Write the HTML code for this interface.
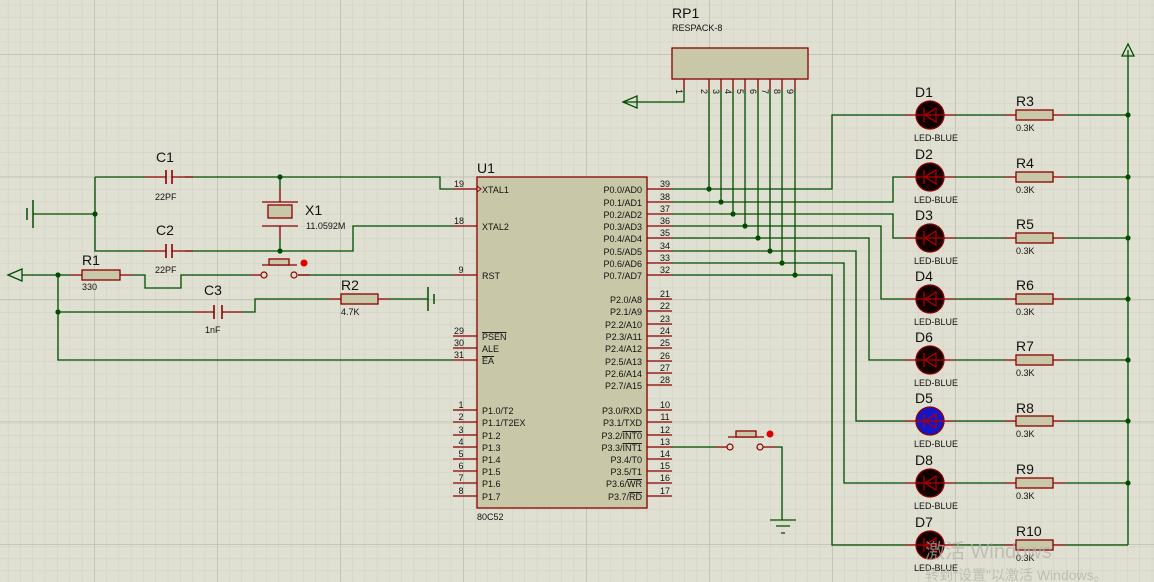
<!DOCTYPE html>
<html><head><meta charset="utf-8"><style>
html,body{margin:0;padding:0;background:#e0e0d2;}
svg{display:block;font-family:"Liberation Sans",Arial,sans-serif;}
.w{stroke:#004d00;stroke-width:1.3;fill:none}
.r{stroke:#8b0000;stroke-width:1.3;fill:none}
.b{fill:#c8c8a8;stroke:#8b0000;stroke-width:1.3}
.j{fill:#004d00}
.t{font-size:9px;fill:#111}
.L{font-size:14px;fill:#111}
.ov{text-decoration:overline}
</style></head><body>
<svg width="1154" height="582" viewBox="0 0 1154 582" xmlns="http://www.w3.org/2000/svg">
<defs>
<pattern id="mi" width="12.3" height="12.3" patternUnits="userSpaceOnUse" x="7.9" y="4.8">
<path d="M0 0H12.3M0 0V12.3" stroke="#cdcdc1" stroke-width="1"/></pattern>
<pattern id="ma" width="123" height="122.5" patternUnits="userSpaceOnUse" x="94" y="54">
<path d="M0 0H123M0 0V123" stroke="#bdbdb1" stroke-width="1.6"/></pattern>
<g id="row">
<path class="r" d="M905 0H916M944 0H955M1005 0H1016M1053 0H1065"/>
<path class="w" d="M955 0H1005M1065 0H1128"/>
<rect class="b" x="1016" y="-5" width="37" height="10"/>
</g>
<g id="led">
<circle cx="930" cy="0" r="14" fill="#120000" stroke="#8b0000" stroke-width="1.3"/>
<polygon points="936,-7 936,7 925,0" fill="none" stroke="#b00000" stroke-width="1.2"/>
<path d="M924 -7V7M916 0H944" stroke="#b00000" stroke-width="1.2"/>
</g>
</defs>
<rect width="1154" height="582" fill="#e0e0d2"/>
<rect width="1154" height="582" fill="url(#mi)"/>
<rect width="1154" height="582" fill="url(#ma)"/>

<!-- U1 -->
<rect class="b" x="477" y="177" width="170" height="331"/>
<text class="L" x="477" y="173">U1</text>
<text class="t" x="477" y="520">80C52</text>
<path class="r" d="M453 189H477M453 226H477M453 275H477M453 336H477M453 348H477M453 360H477M453 410H477M453 422H477M453 435H477M453 447H477M453 459H477M453 471H477M453 483H477M453 496H477"/>
<path class="r" d="M647 189H672M647 202H672M647 214H672M647 226H672M647 238H672M647 251H672M647 263H672M647 275H672M647 299H672M647 311H672M647 324H672M647 336H672M647 348H672M647 361H672M647 373H672M647 385H672M647 410H672M647 422H672M647 435H672M647 447H672M647 459H672M647 471H672M647 483H672M647 496H672"/>
<path d="M477 186L481 189L477 192" stroke="#8b0000" fill="none"/>
<g class="t" text-anchor="middle">
<text x="459" y="187">19</text><text x="459" y="224">18</text><text x="461" y="273">9</text>
<text x="459" y="334">29</text><text x="459" y="346">30</text><text x="459" y="358">31</text>
<text x="461" y="408">1</text><text x="461" y="420">2</text><text x="461" y="433">3</text><text x="461" y="445">4</text>
<text x="461" y="457">5</text><text x="461" y="469">6</text><text x="461" y="481">7</text><text x="461" y="494">8</text>
<text x="665" y="187">39</text><text x="665" y="200">38</text><text x="665" y="212">37</text><text x="665" y="224">36</text>
<text x="665" y="236">35</text><text x="665" y="249">34</text><text x="665" y="261">33</text><text x="665" y="273">32</text>
<text x="665" y="297">21</text><text x="665" y="309">22</text><text x="665" y="322">23</text><text x="665" y="334">24</text>
<text x="665" y="346">25</text><text x="665" y="359">26</text><text x="665" y="371">27</text><text x="665" y="383">28</text>
<text x="665" y="408">10</text><text x="665" y="420">11</text><text x="665" y="433">12</text><text x="665" y="445">13</text>
<text x="665" y="457">14</text><text x="665" y="469">15</text><text x="665" y="481">16</text><text x="665" y="494">17</text>
</g>
<g class="t">
<text x="482" y="193">XTAL1</text><text x="482" y="230">XTAL2</text><text x="482" y="279">RST</text>
<text x="482" y="340" class="t ov">PSEN</text><text x="482" y="352">ALE</text><text x="482" y="364" class="t ov">EA</text>
<text x="482" y="414">P1.0/T2</text><text x="482" y="426">P1.1/T2EX</text><text x="482" y="439">P1.2</text>
<text x="482" y="451">P1.3</text><text x="482" y="463">P1.4</text><text x="482" y="475">P1.5</text>
<text x="482" y="487">P1.6</text><text x="482" y="500">P1.7</text>
</g>
<g class="t" text-anchor="end">
<text x="642" y="193">P0.0/AD0</text><text x="642" y="206">P0.1/AD1</text><text x="642" y="218">P0.2/AD2</text>
<text x="642" y="230">P0.3/AD3</text><text x="642" y="242">P0.4/AD4</text><text x="642" y="255">P0.5/AD5</text>
<text x="642" y="267">P0.6/AD6</text><text x="642" y="279">P0.7/AD7</text>
<text x="642" y="303">P2.0/A8</text><text x="642" y="315">P2.1/A9</text><text x="642" y="328">P2.2/A10</text>
<text x="642" y="340">P2.3/A11</text><text x="642" y="352">P2.4/A12</text><text x="642" y="365">P2.5/A13</text>
<text x="642" y="377">P2.6/A14</text><text x="642" y="389">P2.7/A15</text>
<text x="642" y="414">P3.0/RXD</text><text x="642" y="426">P3.1/TXD</text>
<text x="642" y="439">P3.2/<tspan class="ov">INT0</tspan></text><text x="642" y="451">P3.3/<tspan class="ov">INT1</tspan></text>
<text x="642" y="463">P3.4/T0</text><text x="642" y="475">P3.5/T1</text>
<text x="642" y="487">P3.6/<tspan class="ov">WR</tspan></text><text x="642" y="500">P3.7/<tspan class="ov">RD</tspan></text>
</g>

<!-- RP1 -->
<text class="L" x="672" y="18">RP1</text>
<text class="t" x="672" y="31">RESPACK-8</text>
<rect class="b" x="672" y="48" width="136" height="31"/>
<path class="r" d="M684 79V90M709 79V90M721 79V90M733 79V90M745 79V90M758 79V90M770 79V90M782 79V90M795 79V90"/>
<path class="w" d="M684 90V102H623"/>
<path d="M623 102L637 96V108Z" fill="none" stroke="#004d00" stroke-width="1.3"/>
<g class="t" font-size="8">
<text transform="translate(676,89) rotate(90)">1</text><text transform="translate(701,89) rotate(90)">2</text>
<text transform="translate(713,89) rotate(90)">3</text><text transform="translate(725,89) rotate(90)">4</text>
<text transform="translate(737,89) rotate(90)">5</text><text transform="translate(750,89) rotate(90)">6</text>
<text transform="translate(762,89) rotate(90)">7</text><text transform="translate(774,89) rotate(90)">8</text>
<text transform="translate(787,89) rotate(90)">9</text>
</g>
<path class="w" d="M709 90V189M721 90V202M733 90V214M745 90V226M758 90V238M770 90V251M782 90V263M795 90V275"/>
<path class="w" d="M672 189H832V115H905M672 202H893V177H905M672 214H893V238H905M672 226H881V299H905M672 238H869V360H905M672 251H856V421H905M672 263H844V483H905M672 275H832V545H905"/>
<g class="j"><circle cx="709" cy="189" r="2.6"/><circle cx="721" cy="202" r="2.6"/><circle cx="733" cy="214" r="2.6"/><circle cx="745" cy="226" r="2.6"/><circle cx="758" cy="238" r="2.6"/><circle cx="770" cy="251" r="2.6"/><circle cx="782" cy="263" r="2.6"/><circle cx="795" cy="275" r="2.6"/></g>

<!-- LED rows -->
<use href="#row" y="115"/><use href="#led" y="115"/>
<use href="#row" y="177"/><use href="#led" y="177"/>
<use href="#row" y="238"/><use href="#led" y="238"/>
<use href="#row" y="299"/><use href="#led" y="299"/>
<use href="#row" y="360"/><use href="#led" y="360"/>
<use href="#row" y="421"/>
<g transform="translate(0,421)">
<circle cx="930" cy="0" r="14" fill="#1515c8" stroke="#8b0000" stroke-width="1.3"/>
<polygon points="936,-7 936,7 925,0" fill="none" stroke="#b00000" stroke-width="1.2"/>
<path d="M924 -7V7M916 0H944" stroke="#b00000" stroke-width="1.2"/>
</g>
<use href="#row" y="483"/><use href="#led" y="483"/>
<use href="#row" y="545"/><use href="#led" y="545"/>
<path class="w" d="M1128 50V545"/>
<path d="M1128 44L1122 56H1134Z" fill="none" stroke="#004d00" stroke-width="1.3"/>
<g class="j"><circle cx="1128" cy="115" r="2.6"/><circle cx="1128" cy="177" r="2.6"/><circle cx="1128" cy="238" r="2.6"/><circle cx="1128" cy="299" r="2.6"/><circle cx="1128" cy="360" r="2.6"/><circle cx="1128" cy="421" r="2.6"/><circle cx="1128" cy="483" r="2.6"/></g>
<g class="L">
<text x="915" y="97">D1</text><text x="915" y="159">D2</text><text x="915" y="220">D3</text><text x="915" y="281">D4</text>
<text x="915" y="342">D6</text><text x="915" y="403">D5</text><text x="915" y="465">D8</text><text x="915" y="527">D7</text>
<text x="1016" y="106">R3</text><text x="1016" y="168">R4</text><text x="1016" y="229">R5</text><text x="1016" y="290">R6</text>
<text x="1016" y="351">R7</text><text x="1016" y="413">R8</text><text x="1016" y="474">R9</text><text x="1016" y="536">R10</text>
</g>
<g class="t">
<text x="914" y="141">LED-BLUE</text><text x="914" y="203">LED-BLUE</text><text x="914" y="264">LED-BLUE</text><text x="914" y="325">LED-BLUE</text>
<text x="914" y="386">LED-BLUE</text><text x="914" y="447">LED-BLUE</text><text x="914" y="509">LED-BLUE</text><text x="914" y="571">LED-BLUE</text>
<text x="1016" y="131">0.3K</text><text x="1016" y="193">0.3K</text><text x="1016" y="254">0.3K</text><text x="1016" y="315">0.3K</text>
<text x="1016" y="376">0.3K</text><text x="1016" y="437">0.3K</text><text x="1016" y="499">0.3K</text><text x="1016" y="561">0.3K</text>
</g>

<!-- left circuit -->
<path class="w" d="M95 177H145M185 177H440V189H453M280 177V189M280 239V251M95 177V251H145M185 251H353V226H453M95 214H33"/>
<path class="r" d="M145 177H166M172 177H193M145 251H166M172 251H193"/>
<path d="M166 170V184M172 170V184M166 244V258M172 244V258" stroke="#8b0000" stroke-width="1.6"/>
<path d="M33 200V228M27 208V220" stroke="#004d00" stroke-width="1.5"/>
<path class="r" d="M280 189V202M280 226V239"/>
<path d="M262 202H298M262 226H298" stroke="#8b0000" stroke-width="1.3"/>
<rect class="b" x="268" y="205" width="24" height="13"/>
<g class="j"><circle cx="280" cy="177" r="2.6"/><circle cx="280" cy="251" r="2.6"/><circle cx="95" cy="214" r="2.6"/><circle cx="58" cy="275" r="2.6"/><circle cx="58" cy="312" r="2.6"/></g>
<text class="L" x="156" y="162">C1</text><text class="t" x="155" y="200">22PF</text>
<text class="L" x="156" y="235">C2</text><text class="t" x="155" y="273">22PF</text>
<text class="L" x="305" y="215">X1</text><text class="t" x="306" y="229">11.0592M</text>

<path class="w" d="M22 275H70M132 275H145V288H181V275H250M298 275H453"/>
<path d="M8 275L22 269V281Z" fill="none" stroke="#004d00" stroke-width="1.3"/>
<path class="r" d="M70 275H82M120 275H132M250 275H261M298 275H310"/>
<rect class="b" x="82" y="270" width="38" height="10"/>
<text class="L" x="82" y="265">R1</text><text class="t" x="82" y="290">330</text>
<circle cx="264" cy="275" r="3" fill="none" stroke="#8b0000" stroke-width="1.2"/>
<circle cx="294" cy="275" r="3" fill="none" stroke="#8b0000" stroke-width="1.2"/>
<path d="M262 265H297" stroke="#8b0000" stroke-width="1.3"/>
<rect class="b" x="269" y="259" width="20" height="6"/>
<circle cx="304" cy="263" r="3.5" fill="#e00000"/>

<path class="w" d="M58 275V360H453M58 312H194M242 312H255V299H329M390 299H428"/>
<path class="r" d="M194 312H214M222 312H242M329 299H341M378 299H390"/>
<path d="M214 305V319M222 305V319" stroke="#8b0000" stroke-width="1.6"/>
<rect class="b" x="341" y="294" width="37" height="10"/>
<path d="M428 287V311M434 294V304" stroke="#004d00" stroke-width="1.5"/>
<text class="L" x="204" y="295">C3</text><text class="t" x="205" y="333">1nF</text>
<text class="L" x="341" y="290">R2</text><text class="t" x="341" y="315">4.7K</text>

<!-- P3.3 button -->
<path class="w" d="M672 447H716M775 447H782V520"/>
<path class="r" d="M716 447H727M763 447H775"/>
<circle cx="730" cy="447" r="3" fill="none" stroke="#8b0000" stroke-width="1.2"/>
<circle cx="760" cy="447" r="3" fill="none" stroke="#8b0000" stroke-width="1.2"/>
<path d="M728 437H764" stroke="#8b0000" stroke-width="1.3"/>
<rect class="b" x="736" y="431" width="20" height="6"/>
<circle cx="770" cy="434" r="3.5" fill="#e00000"/>
<path d="M770 520H796M776 526H790M781 533H785" stroke="#004d00" stroke-width="1.3"/>

<text x="925" y="558" font-size="20" fill="#b0b0a8" opacity="0.7" font-family="'Liberation Sans','Noto Sans CJK SC',sans-serif">激活 Windows</text>
<text x="925" y="580" font-size="14" fill="#b0b0a8" opacity="0.7" font-family="'Liberation Sans','Noto Sans CJK SC',sans-serif">转到"设置"以激活 Windows。</text>
</svg>
</body></html>
